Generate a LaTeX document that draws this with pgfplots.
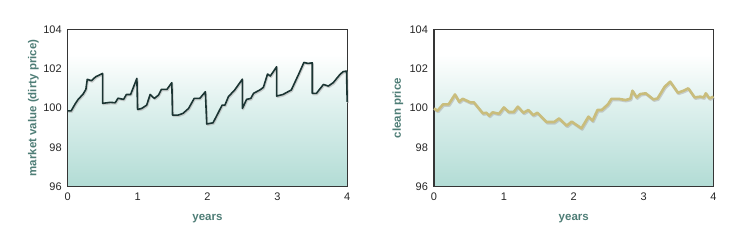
\documentclass[border=0pt]{standalone}
\usepackage{fontspec}
\setmainfont{Liberation Sans}
\usepackage{pgfplots}
\pgfplotsset{compat=1.18}
\definecolor{labcol}{HTML}{4E7D76}
\definecolor{tickcol}{HTML}{262626}
\definecolor{framecol}{HTML}{353535}
\definecolor{dirtycol}{HTML}{1B3533}
\definecolor{cleancol}{HTML}{C9BD7C}
\definecolor{tealbot}{HTML}{B2DCD5}
\definecolor{tealmid}{HTML}{DDF0ED}
\pgfdeclareverticalshading{bgshade}{100bp}{color(0bp)=(tealbot); color(25bp)=(tealbot); color(50bp)=(tealmid); color(67bp)=(white); color(100bp)=(white)}
\pgfplotsset{
  myaxis/.style={
    scale only axis,
    width=279.5pt, height=157.3pt,
    xmin=0, xmax=4, ymin=96, ymax=104,
    xtick={0,1,2,3,4}, ytick={96,98,100,102,104},
    major tick length=0pt,
    axis line style={framecol, line width=1.1pt},
    axis background/.style={shading=bgshade},
    /pgf/number format/assume math mode=true,
    tick label style={font=\fontsize{11}{13}\selectfont, text=tickcol},
    xticklabel shift=3pt,
    yticklabel shift=2.5pt,
    label style={font=\fontsize{11.5}{13}\selectfont\bfseries, text=labcol},
    xlabel={years},
    xlabel style={at={(axis description cs:0.5,-0.2)}, anchor=center},
    clip=false,
  }
}
\begin{document}
\begin{tikzpicture}[x=1pt,y=1pt]
\path[use as bounding box] (0,0) rectangle (750,250);
\begin{axis}[myaxis, at={(67.7pt,63.3pt)}, anchor=south west,
  ylabel={market value (dirty price)},
  ylabel style={at={(axis description cs:-0.123,0.5)}, anchor=center, rotate=0}]
\pgfplotstableread{
x y
0.00 99.86
0.05 99.86
0.105 100.20
0.15 100.44
0.22 100.71
0.26 100.95
0.28 101.46
0.34 101.39
0.40 101.59
0.50 101.76
0.50 100.24
0.61 100.29
0.68 100.27
0.72 100.50
0.80 100.44
0.84 100.69
0.90 100.69
0.99 101.51
1.00 99.93
1.06 99.98
1.13 100.15
1.18 100.69
1.24 100.49
1.30 100.66
1.34 100.95
1.42 100.95
1.49 101.29
1.50 99.64
1.58 99.64
1.65 99.73
1.73 99.98
1.81 100.49
1.89 100.49
1.97 100.83
1.99 99.19
2.08 99.25
2.15 99.73
2.21 100.15
2.25 100.15
2.30 100.58
2.39 100.92
2.44 101.17
2.50 101.47
2.50 99.98
2.56 100.44
2.62 100.49
2.66 100.75
2.75 100.92
2.80 101.05
2.86 101.73
2.90 101.63
2.99 102.10
2.99 100.61
3.08 100.69
3.20 100.92
3.30 101.68
3.38 102.32
3.44 102.27
3.50 102.30
3.50 100.75
3.56 100.75
3.66 101.20
3.73 101.12
3.80 101.29
3.89 101.68
3.94 101.85
3.99 101.88
4.00 100.32
}\dirty
\addplot[gray!60, line width=1.6pt, opacity=0.6, xshift=0.8pt, yshift=-1.2pt, line join=round] table {\dirty};
\addplot[dirtycol, line width=1.6pt, line join=round] table {\dirty};
\end{axis}
\begin{axis}[myaxis, at={(434pt,63.3pt)}, anchor=south west,
  ylabel={clean price},
  ylabel style={at={(axis description cs:-0.129,0.5)}, anchor=center}]
\pgfplotstableread{
x y
0.00 99.98
0.05 99.86
0.13 100.19
0.21 100.19
0.30 100.69
0.36 100.32
0.41 100.47
0.52 100.29
0.57 100.29
0.70 99.73
0.75 99.76
0.79 99.61
0.84 99.78
0.93 99.71
1.00 100.03
1.07 99.80
1.14 99.80
1.20 100.07
1.28 99.76
1.35 99.90
1.42 99.64
1.48 99.76
1.61 99.29
1.72 99.29
1.79 99.47
1.90 99.10
1.97 99.31
2.11 98.97
2.21 99.56
2.27 99.36
2.34 99.90
2.40 99.90
2.49 100.19
2.54 100.47
2.64 100.47
2.74 100.41
2.81 100.47
2.84 100.88
2.90 100.54
2.95 100.71
3.03 100.75
3.14 100.44
3.20 100.49
3.30 101.08
3.38 101.34
3.49 100.78
3.57 100.88
3.64 101.00
3.73 100.54
3.81 100.58
3.86 100.54
3.89 100.75
3.94 100.49
4.00 100.58
}\clean
\addplot[gray!70, line width=2.6pt, opacity=0.5, xshift=0.8pt, yshift=-1.2pt, line join=round] table {\clean};
\addplot[cleancol, line width=2.6pt, line join=round] table {\clean};
\end{axis}
\end{tikzpicture}
\end{document}
